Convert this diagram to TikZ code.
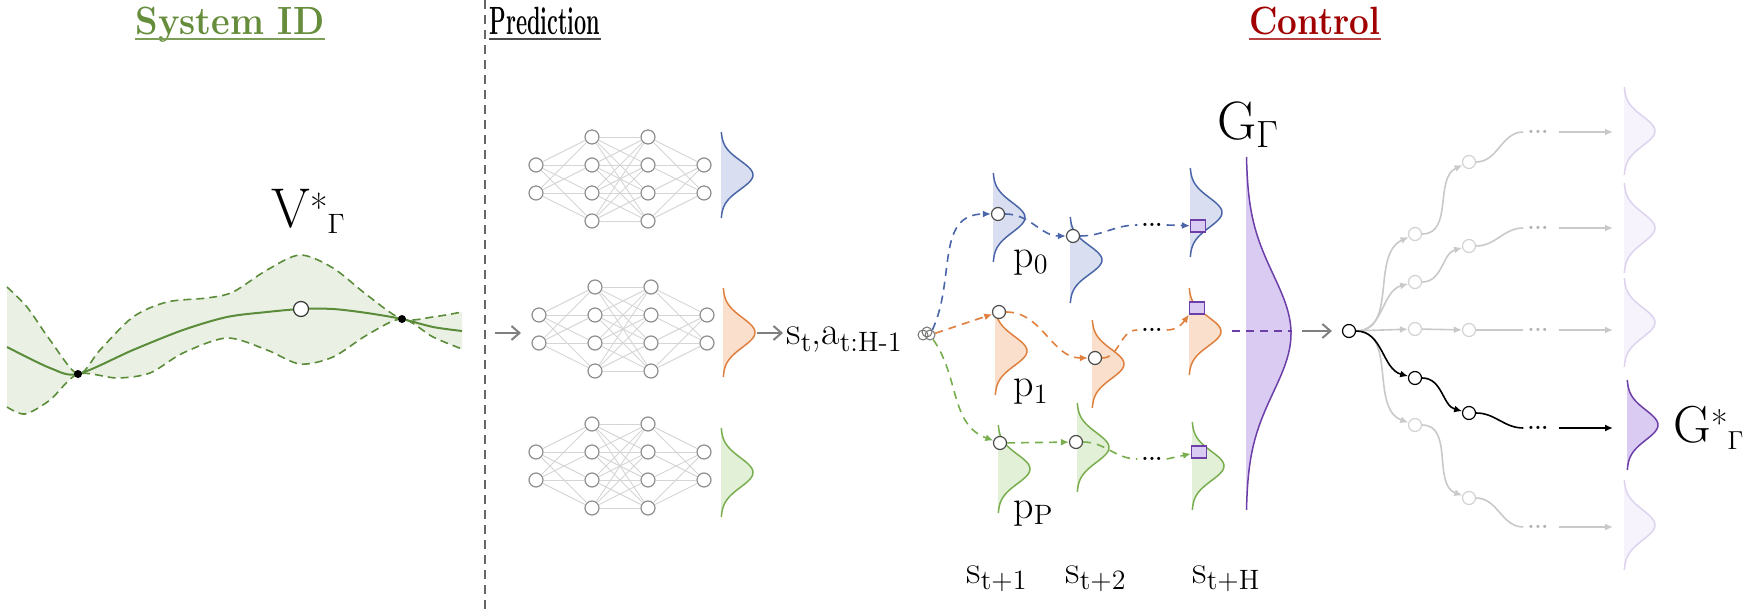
\documentclass[tikz,border=0pt]{standalone}
\usepackage{fontspec}
\usepackage{graphicx}
\usetikzlibrary{arrows.meta}
\definecolor{gpline}{HTML}{5B8C3A}
\definecolor{gpfill}{HTML}{EAF1E4}
\definecolor{tgreen}{HTML}{668D3C}
\definecolor{tred}{HTML}{A00000}
\definecolor{bline}{HTML}{4A66A8}
\definecolor{bfill}{HTML}{D9DFF0}
\definecolor{oline}{HTML}{E0803F}
\definecolor{ofill}{HTML}{F9DFCC}
\definecolor{gline}{HTML}{78AE4E}
\definecolor{gfill}{HTML}{E2F0D8}
\definecolor{pline}{HTML}{6C3FA8}
\definecolor{pfill}{HTML}{D9CBF1}
\definecolor{fline}{HTML}{DDD3EE}
\definecolor{ffill}{HTML}{F6F3FC}
\definecolor{nnedgec}{HTML}{D5D5D5}
\definecolor{nnnode}{HTML}{8E8E8E}
\definecolor{tgray}{HTML}{C9C9C9}
\definecolor{tgrayn}{HTML}{D2D2D2}
\definecolor{arrgray}{HTML}{7F7F7F}
\newcommand{\gaussplot}[6]{%
  \fill[#6] (#1,#2) -- plot[domain=-3:3,samples=60,smooth] ({#1+#4*exp(-((\x)*(\x))/2)},{(#2+#3)/2+(\x)*(#3-#2)/6}) -- (#1,#3) -- cycle;
  \draw[#5,line width=0.75pt] plot[domain=-3:3,samples=60,smooth] ({#1+#4*exp(-((\x)*(\x))/2)},{(#2+#3)/2+(\x)*(#3-#2)/6});}
\newcommand{\bigf}{\fontsize{20}{24}\selectfont}
\newcommand{\lo}[1]{\raisebox{-3pt}{\fontsize{14}{14}\selectfont #1}}
\begin{document}
\begin{tikzpicture}[x=0.5pt,y=-0.5pt,
  nn/.style={circle,draw=nnnode,fill=white,line width=0.6pt,minimum size=7pt,inner sep=0pt},
  nnedge/.style={draw=nnedgec,line width=0.45pt},
  gpdash/.style={gpline,line width=0.8pt,dash pattern=on 4pt off 2.5pt},
  dotb/.style={circle,fill=black,minimum size=4pt,inner sep=0pt},
  stc/.style={circle,draw=black!70,fill=white,line width=0.6pt,minimum size=6.5pt,inner sep=0pt},
  smallc/.style={circle,draw=black!55,line width=0.5pt,minimum size=5pt,inner sep=0pt},
  sqr/.style={rectangle,draw=pline,fill=pfill,line width=0.6pt,minimum width=7.5pt,minimum height=6pt,inner sep=0pt},
  dpath/.style={dash pattern=on 4pt off 3pt,line width=0.8pt,-{Latex[length=4pt,width=3.5pt]}},
  dpl/.style={dash pattern=on 4pt off 3pt,line width=0.8pt},
  dotsn/.style={font=\fontsize{11}{11}\selectfont\bfseries,inner sep=2pt},
  bigarr/.style={arrgray,line width=1pt,-{Straight Barb[length=4pt,width=7pt]}},
  trn/.style={circle,draw=tgrayn,fill=white,line width=0.6pt,minimum size=6.5pt,inner sep=0pt},
  trk/.style={circle,draw=black,fill=white,line width=0.6pt,minimum size=6.5pt,inner sep=0pt},
  trg/.style={tgray,line width=0.8pt,-{Latex[length=4pt,width=3.5pt]}},
  trgl/.style={tgray,line width=0.8pt},
  trb/.style={black,line width=0.8pt,-{Latex[length=4pt,width=3.5pt]}},
  trbl/.style={black,line width=0.8pt},
  ttl/.style={font=\fontsize{19.7}{22}\selectfont\bfseries,anchor=base,inner sep=0pt},
  lbl/.style={anchor=base west,inner sep=0pt,font=\bigf}
]
\useasboundingbox (0,0) rectangle (1752,609);

% ---------- titles ----------
\coordinate (ul) at (0,39);
\node[ttl,text=tgreen] (tsys) at (230,35) {\scalebox{0.92}[1]{System ID}};
\node[ttl,text=black] (tpred) at (545,35) {\scalebox{0.55}[1]{Prediction}};
\node[ttl,text=tred] (tctrl) at (1315,35) {\scalebox{0.89}[1]{Control}};
\draw[tgreen!85,line width=1pt] (tsys.west |- ul) -- (tsys.east |- ul);
\draw[black!70,line width=1pt] (tpred.west |- ul) -- (tpred.east |- ul);
\draw[tred!75,line width=1pt] (tctrl.west |- ul) -- (tctrl.east |- ul);

% ---------- separator ----------
\coordinate (vt) at (485,0);
\coordinate (vb) at (485,609);
\draw[black!60,line width=0.7pt,dash pattern=on 4.5pt off 3pt] (vt) -- (vb);

% ---------- GP ----------
\fill[gpfill] plot[smooth] coordinates {(7,287) (27,307) (50,340) (78,374) (100,350) (133,317) (167,302) (207,298) (233,292) (267,270) (300,255) (333,268) (367,295) (402,319) (433,317) (462,312)}
  -- plot[smooth] coordinates {(462,349) (433,337) (402,319) (367,335) (333,357) (300,364) (267,350) (227,338) (183,353) (150,373) (117,378) (78,374) (50,400) (25,414) (7,407)} -- cycle;
\draw[gpdash] plot[smooth] coordinates {(7,287) (27,307) (50,340) (78,374) (100,350) (133,317) (167,302) (207,298) (233,292) (267,270) (300,255) (333,268) (367,295) (402,319) (433,317) (462,312)};
\draw[gpdash] plot[smooth] coordinates {(7,407) (25,414) (50,400) (78,374) (117,378) (150,373) (183,353) (227,338) (267,350) (300,364) (333,357) (367,335) (402,319) (433,337) (462,349)};
\draw[gpline,line width=1pt] plot[smooth] coordinates {(7,347) (50,368) (78,374) (133,350) (183,330) (227,317) (267,312) (301,309) (333,309) (367,313) (402,319) (433,327) (462,331)};
\node[dotb] (gd1) at (78,374) {};
\node[dotb] (gd2) at (402,319) {};
\node[circle,draw=black!80,fill=white,minimum size=7.5pt,inner sep=0pt,line width=0.6pt] (gq) at (301,309) {};
\node[anchor=base west,inner sep=0pt,font=\fontsize{28}{32}\selectfont] (vlab) at (271,228) {V\raisebox{3pt}{\fontsize{19}{19}\selectfont *}\raisebox{-3pt}{\fontsize{14}{14}\selectfont Γ}};

\coordinate (gpend) at (495,333);
\coordinate (nnin) at (521,333);
\draw[bigarr] (gpend) -- (nnin);

% ---------- neural nets ----------
\foreach \k/\cx/\cy in {1/536/179, 2/539/329, 3/536/466}{
  \foreach \i/\dy in {1/-14,2/14}{
    \node[nn] (n\k-1-\i) at (\cx,\cy+\dy) {};
    \node[nn] (n\k-4-\i) at (\cx+168,\cy+\dy) {};
  }
  \foreach \i/\dy in {1/-42,2/-14,3/14,4/42}{
    \node[nn] (n\k-2-\i) at (\cx+56,\cy+\dy) {};
    \node[nn] (n\k-3-\i) at (\cx+112,\cy+\dy) {};
  }
}
\foreach \k in {1,2,3}{
  \foreach \i in {1,2}{\foreach \j in {1,...,4}{
     \draw[nnedge] (n\k-1-\i) -- (n\k-2-\j);
     \draw[nnedge] (n\k-3-\j) -- (n\k-4-\i);}}
  \foreach \i in {1,...,4}{\foreach \j in {1,...,4}{
     \draw[nnedge] (n\k-2-\i) -- (n\k-3-\j);}}
}

% ---------- model output gaussians ----------
\gaussplot{721}{132}{218}{32}{bline}{bfill}
\gaussplot{723}{288}{377}{32}{oline}{ofill}
\gaussplot{721}{428}{517}{32}{gline}{gfill}

\coordinate (opk) at (757,333);
\coordinate (sin) at (783,333);
\draw[bigarr] (opk) -- (sin);
\node[lbl] (sa) at (786,345) {s\lo{t},a\lo{t:H-1}};

% ---------- rollout gaussians ----------
\gaussplot{993}{173}{262}{32}{bline}{bfill}
\gaussplot{1070}{217}{303}{32}{bline}{bfill}
\gaussplot{1190}{168}{257}{32}{bline}{bfill}
\gaussplot{995}{307}{395}{32}{oline}{ofill}
\gaussplot{1092}{320}{408}{32}{oline}{ofill}
\gaussplot{1189}{288}{375}{32}{oline}{ofill}
\gaussplot{998}{425}{513}{32}{gline}{gfill}
\gaussplot{1077}{403}{492}{32}{gline}{gfill}
\gaussplot{1192}{422}{510}{32}{gline}{gfill}
\gaussplot{1246}{157}{510}{45}{pline}{pfill}

% start circles
\node[smallc] (st1) at (923,335) {};
\node[smallc] (st2) at (927,332) {};
\node[smallc] (st3) at (930,335) {};

% state circles
\node[stc] (c1b) at (998,214) {};
\node[stc] (c2b) at (1073,236) {};
\node[stc] (c1o) at (999,312) {};
\node[stc] (c2o) at (1095,358) {};
\node[stc] (c1g) at (1000,443) {};
\node[stc] (c2g) at (1076,442) {};
\node[sqr] (sqb) at (1198,226) {};
\node[sqr] (sqo) at (1197,308) {};
\node[sqr] (sqg) at (1199,452) {};
\node[dotsn] (db) at (1152,225) {...};
\node[dotsn] (do) at (1152,330) {...};
\node[dotsn] (dg) at (1152,459) {...};

\draw[dpath,bline] (st3) to[out=65,in=180,looseness=1.1] (c1b);
\draw[dpath,bline] (c1b) to[out=0,in=180] (c2b);
\draw[dpl,bline] (c2b) to[out=0,in=180] (db.west);
\draw[dpath,bline] (db.east) -- (sqb);
\draw[dpath,oline] (st3) -- (c1o);
\draw[dpath,oline] (c1o) to[out=0,in=180] (c2o);
\draw[dpl,oline] (c2o) to[out=0,in=180] (do.west);
\draw[dpath,oline] (do.east) to[out=0,in=235] (sqo.south west);
\draw[dpath,gline] (st3) to[out=-55,in=160] (c1g);
\draw[dpath,gline] (c1g) -- (c2g);
\draw[dpl,gline] (c2g) to[out=0,in=180] (dg.west);
\draw[dpath,gline] (dg.east) -- (sqg);

\node[lbl] (p0) at (1013,268) {p\lo{0}};
\node[lbl] (p1) at (1013,397) {p\lo{1}};
\node[lbl] (pP) at (1013,518) {p\lo{P}};
\node[lbl] (s1) at (966,583) {s\lo{t+1}};
\node[lbl] (s2) at (1065,583) {s\lo{t+2}};
\node[lbl] (sH) at (1192,583) {s\lo{t+H}};

% big gaussian
\node[anchor=base west,inner sep=0pt,font=\fontsize{27}{30}\selectfont] (glab) at (1217,140) {G\raisebox{-4pt}{\fontsize{19}{19}\selectfont Γ}};
\coordinate (gdl) at (1232,331);
\coordinate (gpk) at (1292,331);
\draw[pline,line width=0.8pt,dash pattern=on 4pt off 3pt] (gdl) -- (gpk);
\coordinate (garr) at (1302,331);

% ---------- tree ----------
\node[trk] (r) at (1349,331) {};
\draw[bigarr,shorten >=5pt] (garr) -- (r);
\node[trn] (a1) at (1415,234) {};
\node[trn] (a2) at (1415,282) {};
\node[trn] (a3) at (1415,329) {};
\node[trk] (a4) at (1415,378) {};
\node[trn] (a5) at (1415,425) {};
\node[trn] (b1) at (1469,162) {};
\node[trn] (b2) at (1469,246) {};
\node[trn] (b3) at (1469,330) {};
\node[trk] (b4) at (1469,413) {};
\node[trn] (b5) at (1469,498) {};
\node[dotsn,text=black!30] (d1) at (1538,132) {...};
\node[dotsn,text=black!30] (d2) at (1538,228) {...};
\node[dotsn,text=black!30] (d3) at (1538,330) {...};
\node[dotsn,text=black] (d4) at (1538,428) {...};
\node[dotsn,text=black!30] (d5) at (1538,527) {...};

\draw[trg] (r) to[out=0,in=205] (a1);
\draw[trg] (r) to[out=0,in=195] (a2);
\draw[trg] (r) -- (a3);
\draw[trg] (r) to[out=0,in=160] (a5);
\draw[trb] (r) to[out=0,in=165] (a4);
\draw[trg] (a1) to[out=0,in=205] (b1);
\draw[trg] (a2) to[out=0,in=195] (b2);
\draw[trg] (a3) -- (b3);
\draw[trg] (a5) to[out=0,in=160] (b5);
\draw[trb] (a4) to[out=0,in=165] (b4);
\draw[trgl] (b1) to[out=0,in=180] (d1.west);
\draw[trgl] (b2) to[out=0,in=180] (d2.west);
\draw[trgl] (b3) -- (d3.west);
\draw[trbl] (b4) to[out=0,in=180] (d4.west);
\draw[trgl] (b5) to[out=0,in=180] (d5.west);

\coordinate (e1) at (1613,132);
\coordinate (e2) at (1613,228);
\coordinate (e3) at (1613,330);
\coordinate (e4) at (1613,428);
\coordinate (e5) at (1613,527);
\draw[trg] ([xshift=3pt]d1.east) -- (e1);
\draw[trg] ([xshift=3pt]d2.east) -- (e2);
\draw[trg] ([xshift=3pt]d3.east) -- (e3);
\draw[trb] ([xshift=3pt]d4.east) -- (e4);
\draw[trg] ([xshift=3pt]d5.east) -- (e5);

% final gaussians
\gaussplot{1624}{87}{175}{31}{fline}{ffill}
\gaussplot{1624}{183}{273}{31}{fline}{ffill}
\gaussplot{1624}{278}{367}{31}{fline}{ffill}
\gaussplot{1627}{380}{470}{31}{pline}{pfill}
\gaussplot{1624}{480}{570}{31}{fline}{ffill}
\node[anchor=base west,inner sep=0pt,font=\fontsize{26}{30}\selectfont] (gstar) at (1673,443) {G\raisebox{3pt}{\fontsize{18}{18}\selectfont *}\raisebox{-3pt}{\fontsize{13}{13}\selectfont Γ}};
\end{tikzpicture}
\end{document}
